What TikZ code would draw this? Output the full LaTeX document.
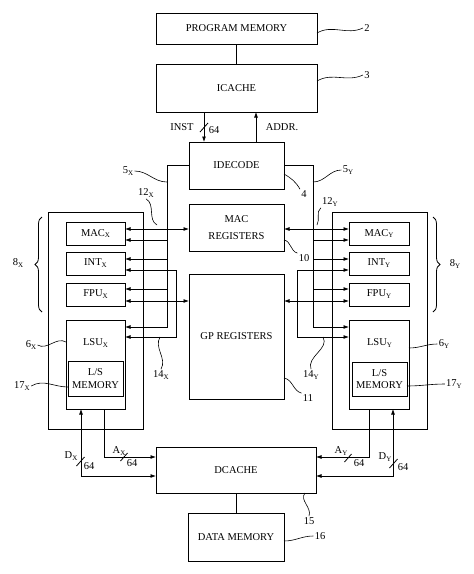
\documentclass[tikz,border=0pt]{standalone}
\usepackage{fontspec}
\setmainfont{Liberation Serif}
\usetikzlibrary{positioning,arrows.meta,decorations.pathreplacing}
\newcommand{\lo}[1]{\raisebox{-0.4ex}{\scriptsize #1}}

\begin{document}
\begin{tikzpicture}[x=1pt, y=1pt, line width=0.8pt,
    font=\fontsize{10.5}{12.5}\selectfont,
    box/.style={rectangle, draw, inner sep=0pt, outer sep=0pt, align=center},
    num/.style={inner sep=1pt},
    arr/.style={-{Latex[length=5.5pt,width=4pt]}},
    darr/.style={{Latex[length=5.5pt,width=4pt]}-{Latex[length=5.5pt,width=4pt]}},
    lead/.style={line width=0.6pt},
    brc/.style={decorate, decoration={brace, amplitude=7pt}}]
  \useasboundingbox (0,0) rectangle (474,-574);

  % centre column
  \node[box, minimum width=161pt, minimum height=31pt] (pm) at (236.5,-28.5) {PROGRAM MEMORY};
  \node[box, minimum width=161pt, minimum height=48pt] (ic) at (236.5,-88) {ICACHE};
  \node[box, minimum width=95pt, minimum height=47pt] (idec) at (236.5,-165.5) {IDECODE};
  \node[box, minimum width=95pt, minimum height=47pt] (macr) at (236.5,-227.5) {MAC\\[4pt]REGISTERS};
  \node[box, minimum width=95pt, minimum height=125pt] (gpr) at (236.5,-336.5) {GP REGISTERS};
  \node[box, minimum width=160pt, minimum height=46pt] (dc) at (236,-470) {DCACHE};
  \node[box, minimum width=96pt, minimum height=48pt] (dm) at (236,-537) {DATA MEMORY};

  % X side
  \node[box, minimum width=95pt, minimum height=217pt] (fx) at (95.5,-320.5) {};
  \node[box, minimum width=59pt, minimum height=23pt] (macx) at (95.5,-233.5) {MAC\lo{X}};
  \node[box, minimum width=59pt, minimum height=23pt] (intx) at (95.5,-263.5) {INT\lo{X}};
  \node[box, minimum width=59pt, minimum height=23pt] (fpux) at (95.5,-294.5) {FPU\lo{X}};
  \node[box, minimum width=59pt, minimum height=89pt] (lsux) at (95.5,-364.5) {};
  \node (lsuxt) at (95.5,-343) {LSU\lo{X}};
  \node[box, minimum width=55pt, minimum height=35pt] (lsmx) at (95.5,-378.5) {L/S\\MEMORY};

  % Y side
  \node[box, minimum width=95pt, minimum height=217pt] (fy) at (379.5,-320.5) {};
  \node[box, minimum width=60pt, minimum height=23pt] (macy) at (379,-233.5) {MAC\lo{Y}};
  \node[box, minimum width=60pt, minimum height=23pt] (inty) at (379,-263.5) {INT\lo{Y}};
  \node[box, minimum width=60pt, minimum height=23pt] (fpuy) at (379,-294.5) {FPU\lo{Y}};
  \node[box, minimum width=60pt, minimum height=89pt] (lsuy) at (379,-364.5) {};
  \node (lsuyt) at (379.5,-343) {LSU\lo{Y}};
  \node[box, minimum width=55pt, minimum height=34pt] (lsmy) at (379.5,-379) {L/S\\MEMORY};

  % fetch
  \draw (pm) -- (ic);
  \draw[arr] ([xshift=-32.5pt]ic.south) -- ([xshift=-32.5pt]idec.north);
  \draw[arr] ([xshift=19.5pt]idec.north) -- ([xshift=19.5pt]ic.south);
  \draw (200,-132) -- (208,-123);
  \node (ninst) at (182,-127) {INST};
  \node (n64i) at (214,-130) {64};
  \node (naddr) at (282,-127) {ADDR.};

  % X buses
  \draw[arr] (idec.west) -| (167,-327) -- (lsux.east |- 0,-327);
  \draw[arr] (167,-240) -- (macx.east |- 0,-240);
  \draw[arr] (167,-259) -- (intx.east |- 0,-259);
  \draw[arr] (167,-289) -- (fpux.east |- 0,-289);
  \draw[darr] (intx.east |- 0,-270) -| (176,-337) -- (lsux.east |- 0,-337);
  \draw[darr] (macx.east |- 0,-229) -- (macr.west |- 0,-229);
  \draw[darr] (fpux.east |- 0,-301) -- (gpr.west |- 0,-301);

  % Y buses
  \draw[arr] (idec.east) -| (313,-327) -- (lsuy.west |- 0,-327);
  \draw[arr] (313,-240) -- (macy.west |- 0,-240);
  \draw[arr] (313,-259) -- (inty.west |- 0,-259);
  \draw[arr] (313,-289) -- (fpuy.west |- 0,-289);
  \draw[darr] (inty.west |- 0,-270) -| (297,-337) -- (lsuy.west |- 0,-337);
  \draw[darr] (macr.east |- 0,-229) -- (macy.west |- 0,-229);
  \draw[darr] (gpr.east |- 0,-301) -- (fpuy.west |- 0,-301);

  % data side
  \draw (dc) -- (dm);
  \draw[arr] (lsux.south -| 104,0) |- (dc.west |- 0,-457);
  \draw[darr] (lsux.south -| 81,0) |- (dc.west |- 0,-476);
  \draw[arr] (lsuy.south -| 369,0) |- (dc.east |- 0,-457);
  \draw[darr] (lsuy.south -| 393,0) |- (dc.east |- 0,-476);
  \draw (120.5,-461) -- (127.5,-453);
  \draw (76.5,-466) -- (84.5,-457);
  \draw (344.5,-462) -- (351.5,-454);
  \draw (389.5,-468) -- (397.5,-459);
  \node (nax) at (119,-451) {A\lo{X}};
  \node (n64a) at (132,-463) {64};
  \node (ndx) at (71,-456) {D\lo{X}};
  \node (n64d) at (89,-466) {64};
  \node (nay) at (341,-451) {A\lo{Y}};
  \node (n64b) at (359,-463) {64};
  \node (ndy) at (385,-457) {D\lo{Y}};
  \node (n64c) at (403,-467) {64};

  % braces
  \draw[brc] (42,-312) -- (42,-217);
  \draw[brc] (433,-217) -- (433,-312);
  \node (n8x) at (18,-263) {8\lo{X}};
  \node (n8y) at (455,-264) {8\lo{Y}};

  % reference numerals
  \node[num] (n2) at (367,-28) {2};
  \node[num] (n3) at (367,-75) {3};
  \node[num] (n4) at (304,-194) {4};
  \node[num] (n5x) at (128,-171) {5\lo{X}};
  \node[num] (n5y) at (348,-170) {5\lo{Y}};
  \node[num] (n12x) at (146,-193) {12\lo{X}};
  \node[num] (n12y) at (330,-202) {12\lo{Y}};
  \node[num] (n10) at (304,-258) {10};
  \node[num] (n11) at (308,-398) {11};
  \node[num] (n14x) at (161,-375) {14\lo{X}};
  \node[num] (n14y) at (311,-375) {14\lo{Y}};
  \node[num] (n6x) at (31,-345) {6\lo{X}};
  \node[num] (n17x) at (22,-386) {17\lo{X}};
  \node[num] (n6y) at (444,-344) {6\lo{Y}};
  \node[num] (n17y) at (454,-384) {17\lo{Y}};
  \node[num] (n15) at (309,-521) {15};
  \node[num] (n16) at (320,-536) {16};

  \draw[lead] (pm.east |- 0,-33) to[out=30,in=205] (n2.west);
  \draw[lead] (ic.east |- 0,-81) to[out=30,in=205] (n3.west);
  \draw[lead] (idec.east |- 0,-174) to[out=-30,in=120] (n4.north west);
  \draw[lead] (n5x.east) to[out=0,in=180] (167,-182);
  \draw[lead] (313,-182) to[out=0,in=180] (n5y.west);
  \draw[lead] (n12x.south) to[out=-30,in=150] (157,-225);
  \draw[lead] (n12y.south west) to[out=-140,in=60] (317,-225);
  \draw[lead] (macr.east |- 0,-240) to[out=-10,in=165] (n10.north west);
  \draw[lead] (gpr.east |- 0,-378) to[out=-10,in=165] (n11.north west);
  \draw[lead] (160,-337) to[out=-120,in=60] (n14x.north);
  \draw[lead] (323,-337) to[out=-60,in=110] (n14y.north);
  \draw[lead] (n6x.east) to[out=-30,in=150] (lsux.west |- 0,-342);
  \draw[lead] (n17x.east) to[out=30,in=180] (lsmx.west |- 0,-387);
  \draw[lead] (lsuy.east |- 0,-348) to[out=0,in=180] (n6y.west);
  \draw[lead] (lsmy.east |- 0,-386) to[out=0,in=180] (n17y.west);
  \draw[lead] (dc.south -| 305,0) to[out=-130,in=70] (n15.north);
  \draw[lead] (dm.east |- 0,-541) to[out=0,in=180] (n16.west);
\end{tikzpicture}
\end{document}
